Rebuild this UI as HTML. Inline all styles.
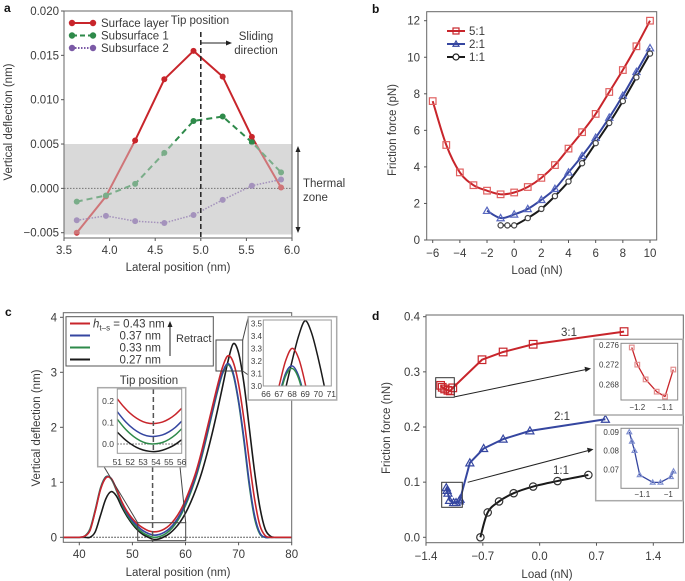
<!DOCTYPE html>
<html><head><meta charset="utf-8"><style>
html,body{margin:0;padding:0;background:#fff;}
svg{display:block;font-family:"Liberation Sans",sans-serif;}
</style></head><body>
<svg id="fig" width="685" height="581" viewBox="0 0 685 581"></svg>
<script>
// ---------- panel a data ----------
const aX = [3.64, 3.96, 4.28, 4.60, 4.92, 5.24, 5.56, 5.88];
const aSurface = [-0.0050, -0.0009, 0.0054, 0.0123, 0.0155, 0.0126, 0.0058, 0.0001];
const aSub1 = [-0.0015, -0.0008, 0.0005, 0.0040, 0.0076, 0.0081, 0.0052, 0.0018];
const aSub2 = [-0.0036, -0.0031, -0.0037, -0.0039, -0.0030, -0.0013, 0.0003, 0.0010];
const aXTicks = [3.5, 4.0, 4.5, 5.0, 5.5, 6.0];
const aXLabels = ["3.5", "4.0", "4.5", "5.0", "5.5", "6.0"];
const aYTicks = [0.020, 0.015, 0.010, 0.005, 0.000, -0.005];
const aYLabels = ["0.020", "0.015", "0.010", "0.005", "0.000", "\u22120.005"];
// ---------- panel b data ----------
const b51X = [-6,-5,-4,-3,-2,-1,0,1,2,3,4,5,6,7,8,9,10];
const b51Y = [7.6,5.2,3.7,3.0,2.7,2.5,2.6,2.9,3.4,4.1,5.0,5.9,6.9,8.1,9.3,10.6,12.0];
const b21X = [-2,-1,0,1,2,3,4,5,6,7,8,9,10];
const b21Y = [1.6,1.2,1.4,1.7,2.2,2.8,3.7,4.6,5.6,6.7,7.9,9.2,10.5];
const b11X = [-1,-0.5,0,1,2,3,4,5,6,7,8,9,10];
const b11Y = [0.8,0.8,0.8,1.2,1.7,2.4,3.2,4.2,5.3,6.4,7.6,8.9,10.2];
const bXTicks = [-6,-4,-2,0,2,4,6,8,10];
const bXLabels = ["\u22126","\u22124","\u22122","0","2","4","6","8","10"];
const bYTicks = [0,2,4,6,8,10,12];
const bYLabels = ["0","2","4","6","8","10","12"];
// ---------- panel c data ----------
const cX =     [37,40,41,42,43,44,45,46,47,48,49,50,51,52,53,54,55,56,57,58,59,60,61,62,63,64,65,66,67,68,69,70,71,72,73,74,75,76,77,78,80];
const cRed =   [0,0,0.02,0.12,0.47,0.87,1.08,1.07,0.88,0.65,0.47,0.34,0.24,0.17,0.12,0.10,0.11,0.15,0.22,0.33,0.48,0.68,0.92,1.20,1.55,1.95,2.35,2.75,3.10,3.30,3.18,2.78,2.15,1.40,0.70,0.22,0.03,0,0,0,0];
const cBlue =  [0,0,0.02,0.13,0.48,0.88,1.09,1.07,0.87,0.63,0.44,0.30,0.20,0.12,0.07,0.04,0.05,0.09,0.16,0.27,0.42,0.62,0.86,1.14,1.48,1.87,2.27,2.67,3.00,3.16,2.98,2.48,1.80,1.00,0.40,0.08,0,0,0,0,0];
const cGreen = [0,0,0.02,0.15,0.50,0.90,1.10,1.06,0.85,0.60,0.41,0.27,0.16,0.08,0.03,0.00,0.01,0.05,0.12,0.23,0.38,0.58,0.82,1.10,1.44,1.83,2.24,2.64,2.98,3.14,2.95,2.45,1.75,0.95,0.35,0.06,0,0,0,0,0];
const cBlack = [0,0,0,0,0.10,0.40,0.70,0.83,0.75,0.55,0.38,0.24,0.13,0.05,0.00,-0.04,-0.03,0.01,0.07,0.16,0.28,0.44,0.64,0.88,1.16,1.50,1.88,2.30,2.75,3.20,3.52,3.35,2.80,2.00,1.20,0.55,0.15,0.02,0,0,0];
const cXTicks = [40,50,60,70,80];
const cYTicks = [0,1,2,3,4];
// inset 1 (minimum)
const ciX =     [51,51.5,52,52.5,53,53.5,54,54.5,55,55.5,56];
const ciRed =   [0.210,0.173,0.143,0.120,0.104,0.096,0.096,0.102,0.116,0.137,0.166];
const ciBlue =  [0.150,0.113,0.083,0.060,0.044,0.036,0.036,0.042,0.056,0.077,0.106];
const ciGreen = [0.115,0.078,0.048,0.025,0.009,0.001,0.001,0.007,0.021,0.042,0.071];
const ciBlack = [0.055,0.026,0.002,-0.016,-0.028,-0.034,-0.035,-0.029,-0.018,-0.002,0.020];
const ciXTicks = [51,52,53,54,55,56];
const ciYTicks = [0.0,0.1,0.2];
const ciYLabels = ["0.0","0.1","0.2"];
// inset 2 (peak)
const cpX =     [66.6,67.0,67.5,68.0,68.5,69.0,69.5,70.0,70.5,71.0];
const cpRed =   [2.85,3.00,3.20,3.30,3.22,3.02,2.75,2.45,2.1,1.7];
const cpBlue =  [2.75,2.92,3.10,3.16,3.08,2.88,2.6,2.3,2.0,1.7];
const cpGreen = [2.73,2.90,3.08,3.14,3.06,2.86,2.6,2.3,2.0,1.7];
const cpBlack = [2.55,2.75,2.98,3.20,3.40,3.52,3.42,3.22,2.98,2.7];
const cpXTicks = [66,67,68,69,70,71];
const cpYTicks = [3.0,3.1,3.2,3.3,3.4,3.5];
// ---------- panel d data ----------
const d31X = [-1.22,-1.20,-1.17,-1.13,-1.10,-1.07,-0.71,-0.45,-0.08,1.04];
const d31Y = [0.2755,0.272,0.269,0.2665,0.2655,0.271,0.322,0.336,0.350,0.373];
const d21X = [-1.15,-1.14,-1.13,-1.11,-1.06,-1.03,-0.99,-0.98,-0.86,-0.69,-0.45,-0.12,0.81];
const d21Y = [0.090,0.085,0.080,0.067,0.063,0.063,0.066,0.069,0.135,0.161,0.178,0.193,0.214];
const d11X = [-0.73,-0.64,-0.50,-0.32,-0.08,0.22,0.60];
const d11Y = [0.0,0.045,0.065,0.080,0.092,0.102,0.113];
const dXTicks = [-1.4,-0.7,0.0,0.7,1.4];
const dXLabels = ["\u22121.4","\u22120.7","0.0","0.7","1.4"];
const dYTicks = [0.0,0.1,0.2,0.3,0.4];
const dYLabels = ["0.0","0.1","0.2","0.3","0.4"];
const drYTicks = [0.268,0.272,0.276];
const drXTicks = [-1.2,-1.1];
const dbYTicks = [0.07,0.08,0.09];
const dbXTicks = [-1.1,-1.0];

const NS = "http://www.w3.org/2000/svg";
const svg = document.getElementById("fig");
function mk(tag, attrs, name, parent) {
  const el = document.createElementNS(NS, tag);
  for (const k in attrs) el.setAttribute(k, attrs[k]);
  
  
  (parent || svg).appendChild(el);
  return el;
}
function txt(x, y, s, name, o) {
  o = o || {};
  const el = mk("text", {x: x, y: y, "font-size": o.size || 11.5, fill: o.fill || "#3a3a3a",
    "text-anchor": o.anchor || "start", "font-weight": o.bold ? "bold" : "normal"}, name, o.parent);
  if (o.rot) el.setAttribute("transform", "rotate(-90 " + x + " " + y + ")");
  el.textContent = s;
  return el;
}
function lin(d0, d1, r0, r1) { return v => r0 + (v - d0) / (d1 - d0) * (r1 - r0); }
function line(x1, y1, x2, y2, name, o) {
  o = o || {};
  return mk("line", {x1: x1, y1: y1, x2: x2, y2: y2, stroke: o.stroke || "#555", "stroke-width": o.w || 1,
    "stroke-dasharray": o.dash || "none"}, name, o.parent);
}
function smoothPath(pts) {
  let d = "M" + pts[0][0] + "," + pts[0][1];
  for (let i = 0; i < pts.length - 1; i++) {
    const p0 = pts[Math.max(0, i - 1)], p1 = pts[i], p2 = pts[i + 1], p3 = pts[Math.min(pts.length - 1, i + 2)];
    const c1x = p1[0] + (p2[0] - p0[0]) / 6, c1y = p1[1] + (p2[1] - p0[1]) / 6;
    const c2x = p2[0] - (p3[0] - p1[0]) / 6, c2y = p2[1] - (p3[1] - p1[1]) / 6;
    d += " C" + c1x + "," + c1y + " " + c2x + "," + c2y + " " + p2[0] + "," + p2[1];
  }
  return d;
}
function series(xs, ys, sx, sy, name, o) {
  const pts = xs.map((v, i) => [sx(v), sy(ys[i])]);
  const d = o.smooth ? smoothPath(pts) : "M" + pts.map(p => p[0] + "," + p[1]).join(" L");
  const p = mk("path", {d: d, fill: "none", stroke: o.color, "stroke-width": o.w || 2,
    "stroke-dasharray": o.dash || "none", "stroke-linejoin": "round"}, name, o.parent);
  if (o.clip) p.setAttribute("clip-path", "url(#" + o.clip + ")");
  return pts;
}
function markers(pts, kind, color, name, size, parent, fillc) {
  const g = mk("g", {}, name + "-markers", parent);
  pts.forEach(p => {
    const s = size;
    if (kind === "dot") mk("circle", {cx: p[0], cy: p[1], r: s, fill: color}, name + "-point", g);
    if (kind === "circle") mk("circle", {cx: p[0], cy: p[1], r: s, fill: fillc || "none", stroke: color, "stroke-width": 1.2}, name + "-point", g);
    if (kind === "square") mk("rect", {x: p[0] - s, y: p[1] - s, width: 2 * s, height: 2 * s, fill: "none", stroke: color, "stroke-width": 1.2}, name + "-point", g);
    if (kind === "tri") mk("polygon", {points: (p[0]) + "," + (p[1] - s) + " " + (p[0] - s) + "," + (p[1] + s * 0.75) + " " + (p[0] + s) + "," + (p[1] + s * 0.75), fill: "none", stroke: color, "stroke-width": 1.2}, name + "-point", g);
  });
}
function clip(id, x, y, w, h) {
  const c = mk("clipPath", {id: id}, id, svg);
  mk("rect", {x: x, y: y, width: w, height: h}, id + "-rect", c);
}
const RED = "#c8252b", GREEN = "#2e8a4a", PURPLE = "#7b5aa6", BLUE = "#3546a0", BLACK = "#1a1a1a";

// ================= PANEL A =================
(function () {
  const sx = lin(3.5, 6.0, 64, 292), sy = lin(-0.005, 0.020, 232.7, 11);
  const g = mk("g", {}, "panel-a");
  txt(4, 12, "a", "panel-a-label", {bold: true, size: 12, fill: "#111", parent: g});
  mk("rect", {x: 64, y: sy(0.005), width: 228, height: sy(-0.0052) - sy(0.005), fill: "#dadada"}, "thermal-zone-band", g);
  line(64, sy(0), 292, sy(0), "zero-line", {stroke: "#222", dash: "1.5,1.5", parent: g});
  const p1 = series(aX, aSurface, sx, sy, "surface-layer-line", {color: RED, w: 2, parent: g});
  const p2 = series(aX, aSub1, sx, sy, "subsurface-1-line", {color: GREEN, w: 2, dash: "6,4", parent: g});
  const p3 = series(aX, aSub2, sx, sy, "subsurface-2-line", {color: PURPLE, w: 1.5, dash: "1.5,1.5", parent: g});
  markers(p1, "dot", RED, "surface-layer", 3, g);
  markers(p2, "dot", GREEN, "subsurface-1", 3, g);
  markers(p3, "dot", PURPLE, "subsurface-2", 3, g);
  mk("rect", {x: 64, y: sy(0.005), width: 228, height: sy(-0.0052) - sy(0.005), fill: "#d6d6d6", opacity: 0.45}, "thermal-zone-overlay", g);
  line(sx(5.0), 32, sx(5.0), 238, "tip-position-line", {stroke: "#222", w: 1.5, dash: "5,3", parent: g});
  line(sx(5.0), 43, 228, 43, "sliding-arrow", {stroke: "#222", parent: g});
  mk("polygon", {points: "232,43 226,40.5 226,45.5", fill: "#222"}, "sliding-arrowhead", g);
  txt(200, 24, "Tip position", "tip-position-label", {anchor: "middle", parent: g});
  txt(256, 40, "Sliding", "sliding-label", {anchor: "middle", parent: g});
  txt(256, 54, "direction", "direction-label", {anchor: "middle", parent: g});
  line(298, 150, 298, 229, "thermal-zone-arrow", {stroke: "#222", parent: g});
  mk("polygon", {points: "298,146 295.5,152 300.5,152", fill: "#222"}, "thermal-arrow-top", g);
  mk("polygon", {points: "298,233 295.5,227 300.5,227", fill: "#222"}, "thermal-arrow-bottom", g);
  txt(303, 187, "Thermal", "thermal-label", {parent: g});
  txt(303, 201, "zone", "zone-label", {parent: g});
  mk("rect", {x: 64, y: 11, width: 228, height: 227, fill: "none", stroke: "#666", "stroke-width": 1}, "panel-a-frame", g);
  aXTicks.forEach((v, i) => { line(sx(v), 238, sx(v), 241, "x-tick", {parent: g}); txt(sx(v), 254, aXLabels[i], "x-tick-label", {anchor: "middle", parent: g}); });
  aYTicks.forEach((v, i) => { line(61, sy(v), 64, sy(v), "y-tick", {parent: g}); txt(59, sy(v) + 4, aYLabels[i], "y-tick-label", {anchor: "end", parent: g}); });
  txt(178, 271, "Lateral position (nm)", "x-axis-title", {anchor: "middle", parent: g});
  txt(12, 122, "Vertical deflection (nm)", "y-axis-title", {anchor: "middle", rot: true, parent: g});
  const leg = [["Surface layer", RED, "none", "legend-surface"], ["Subsurface 1", GREEN, "5,3", "legend-subsurface-1"], ["Subsurface 2", PURPLE, "1.5,1.5", "legend-subsurface-2"]];
  leg.forEach((e, i) => {
    const y = 23 + i * 12.5;
    line(72, y, 93, y, e[3] + "-line", {stroke: e[1], w: 2, dash: e[2], parent: g});
    mk("circle", {cx: 72, cy: y, r: 3.2, fill: e[1]}, e[3] + "-dot", g);
    mk("circle", {cx: 93, cy: y, r: 3.2, fill: e[1]}, e[3] + "-dot", g);
    txt(101, y + 4, e[0], e[3] + "-text", {parent: g});
  });
})();

// ================= PANEL B =================
(function () {
  const sx = lin(-6, 10, 432.7, 650), sy = lin(0, 12, 240, 20.7);
  const g = mk("g", {}, "panel-b");
  txt(372, 13, "b", "panel-b-label", {bold: true, size: 12, fill: "#111", parent: g});
  mk("rect", {x: 426.7, y: 11.7, width: 230, height: 228.3, fill: "none", stroke: "#666"}, "panel-b-frame", g);
  const p1 = series(b51X, b51Y, sx, sy, "ratio-5-1-line", {color: RED, w: 2, smooth: true, parent: g});
  const p2 = series(b21X, b21Y, sx, sy, "ratio-2-1-line", {color: BLUE, w: 2, smooth: true, parent: g});
  const p3 = series(b11X, b11Y, sx, sy, "ratio-1-1-line", {color: BLACK, w: 2, smooth: true, parent: g});
  markers(p1, "square", "#e06060", "ratio-5-1", 3.3, g);
  markers(p2, "tri", "#5868c0", "ratio-2-1", 3.6, g);
  markers(p3, "circle", "#444", "ratio-1-1", 2.6, g, "#fff");
  bXTicks.forEach((v, i) => { line(sx(v), 240, sx(v), 243, "x-tick", {parent: g}); txt(sx(v), 257, bXLabels[i], "x-tick-label", {anchor: "middle", parent: g}); });
  bYTicks.forEach((v, i) => { line(424, sy(v), 426.7, sy(v), "y-tick", {parent: g}); txt(420, sy(v) + 4, bYLabels[i], "y-tick-label", {anchor: "end", parent: g}); });
  txt(537, 274, "Load (nN)", "x-axis-title", {anchor: "middle", parent: g});
  txt(396, 130, "Friction force (pN)", "y-axis-title", {anchor: "middle", rot: true, parent: g});
  const leg = [["5:1", RED, "square", "legend-5-1"], ["2:1", BLUE, "tri", "legend-2-1"], ["1:1", BLACK, "circle", "legend-1-1"]];
  leg.forEach((e, i) => {
    const y = 31 + i * 13;
    line(447, y, 465, y, e[3] + "-line", {stroke: e[1], w: 2, parent: g});
    markers([[456, y]], e[2], e[1], e[3], 3, g, "#fff");
    txt(469, y + 4, e[0], e[3] + "-text", {parent: g});
  });
})();

// ================= PANEL C =================
(function () {
  const sx = lin(40, 80, 79.3, 291.7), sy = lin(0, 4, 537.3, 317.3);
  const g = mk("g", {}, "panel-c");
  txt(5, 316, "c", "panel-c-label", {bold: true, size: 12, fill: "#111", parent: g});
  clip("clipC", 63.3, 312.7, 228.4, 229.6);
  line(63.3, sy(0), 291.7, sy(0), "zero-line", {stroke: "#333", dash: "1.5,1.5", parent: g});
  series(cX, cBlack, sx, sy, "h-0.27-curve", {color: BLACK, w: 1.6, smooth: true, clip: "clipC", parent: g});
  series(cX, cGreen, sx, sy, "h-0.33-curve", {color: GREEN, w: 1.6, smooth: true, clip: "clipC", parent: g});
  series(cX, cBlue, sx, sy, "h-0.37-curve", {color: BLUE, w: 1.6, smooth: true, clip: "clipC", parent: g});
  series(cX, cRed, sx, sy, "h-0.43-curve", {color: RED, w: 1.6, smooth: true, clip: "clipC", parent: g});
  line(sx(53.8), 387, sx(53.8), 542, "tip-position-line", {stroke: "#555", w: 1.5, dash: "5,3", parent: g});
  txt(149, 384, "Tip position", "tip-position-label", {anchor: "middle", parent: g});
  mk("rect", {x: 137.7, y: 522.7, width: 48, height: 18, fill: "none", stroke: "#444"}, "zoom-box-minimum", g);
  line(137.7, 522.7, 104, 466.7, "zoom-connector", {stroke: "#444", parent: g});
  line(185.7, 522.7, 180, 466.7, "zoom-connector", {stroke: "#444", parent: g});
  mk("rect", {x: 216, y: 340, width: 26.7, height: 31, fill: "none", stroke: "#444"}, "zoom-box-peak", g);
  line(242.7, 340, 248.3, 317, "zoom-connector", {stroke: "#444", parent: g});
  line(242.7, 371, 248.3, 375, "zoom-connector", {stroke: "#444", parent: g});
  mk("rect", {x: 63.3, y: 312.7, width: 228.4, height: 229.6, fill: "none", stroke: "#666"}, "panel-c-frame", g);
  cXTicks.forEach(v => { line(sx(v), 542.3, sx(v), 545.3, "x-tick", {parent: g}); txt(sx(v), 558, String(v), "x-tick-label", {anchor: "middle", parent: g}); });
  cYTicks.forEach(v => { line(60, sy(v), 63.3, sy(v), "y-tick", {parent: g}); txt(57, sy(v) + 4, String(v), "y-tick-label", {anchor: "end", parent: g}); });
  txt(178, 576, "Lateral position (nm)", "x-axis-title", {anchor: "middle", parent: g});
  txt(40, 428, "Vertical deflection (nm)", "y-axis-title", {anchor: "middle", rot: true, parent: g});
  // legend
  mk("rect", {x: 66, y: 316.7, width: 147.3, height: 49.3, fill: "#fff", stroke: "#555"}, "legend-box", g);
  const leg = [["= 0.43 nm", RED], ["0.37 nm", BLUE], ["0.33 nm", GREEN], ["0.27 nm", BLACK]];
  leg.forEach((e, i) => {
    const y = 323.5 + i * 12;
    line(70, y, 90, y, "legend-line", {stroke: e[1], w: 2, parent: g});
    if (i === 0) {
      const t = txt(93, y + 4, "", "legend-h-label", {parent: g});
      t.innerHTML = '<tspan font-style="italic">h</tspan><tspan font-size="8" dy="3">t\u2013s</tspan><tspan dy="-3"> = 0.43 nm</tspan>';
    } else txt(161, y + 4, e[0], "legend-text", {anchor: "end", parent: g});
  });
  line(170, 356, 170, 326, "retract-arrow", {stroke: "#222", parent: g});
  mk("polygon", {points: "170,321 167.5,327 172.5,327", fill: "#222"}, "retract-arrowhead", g);
  txt(176, 342, "Retract", "retract-label", {size: 11, parent: g});
  // inset 1
  const ix = lin(51, 56, 117.3, 181.7), iy = lin(0, 0.2, 444, 401);
  mk("rect", {x: 97.7, y: 387.7, width: 88, height: 79, fill: "#fff", stroke: "#aaa", "stroke-width": 1.5}, "inset-minimum-frame", g);
  clip("clipI1", 117.3, 389, 64.4, 64.3);
  line(117.3, iy(0), 181.7, iy(0), "inset-zero-line", {stroke: "#555", dash: "1.5,1.5", parent: g});
  series(ciX, ciRed, ix, iy, "inset-h-0.43", {color: RED, w: 1.5, smooth: true, clip: "clipI1", parent: g});
  series(ciX, ciBlue, ix, iy, "inset-h-0.37", {color: BLUE, w: 1.5, smooth: true, clip: "clipI1", parent: g});
  series(ciX, ciGreen, ix, iy, "inset-h-0.33", {color: GREEN, w: 1.5, smooth: true, clip: "clipI1", parent: g});
  series(ciX, ciBlack, ix, iy, "inset-h-0.27", {color: BLACK, w: 1.5, smooth: true, clip: "clipI1", parent: g});
  line(ix(53.8), 389, ix(53.8), 453.3, "inset-tip-line", {stroke: "#555", w: 1.5, dash: "5,3", parent: g});
  mk("rect", {x: 117.3, y: 389, width: 64.4, height: 64.3, fill: "none", stroke: "#999"}, "inset-minimum-axes", g);
  ciXTicks.forEach(v => txt(ix(v), 465, String(v), "inset-x-label", {anchor: "middle", size: 8.5, parent: g}));
  ciYTicks.forEach((v, i) => txt(114, iy(v) + 3, ciYLabels[i], "inset-y-label", {anchor: "end", size: 8.5, parent: g}));
  // inset 2
  const px = lin(66, 71, 266, 331.3), py = lin(3.0, 3.5, 386, 323.3);
  mk("rect", {x: 248.3, y: 316.7, width: 88.4, height: 83.3, fill: "#fff", stroke: "#aaa", "stroke-width": 1.5}, "inset-peak-frame", g);
  clip("clipI2", 263.3, 320, 68, 66);
  series(cpX, cpBlack, px, py, "inset-peak-h-0.27", {color: BLACK, w: 1.5, smooth: true, clip: "clipI2", parent: g});
  series(cpX, cpRed, px, py, "inset-peak-h-0.43", {color: RED, w: 1.5, smooth: true, clip: "clipI2", parent: g});
  series(cpX, cpBlue, px, py, "inset-peak-h-0.37", {color: BLUE, w: 1.5, smooth: true, clip: "clipI2", parent: g});
  series(cpX, cpGreen, px, py, "inset-peak-h-0.33", {color: GREEN, w: 1.5, smooth: true, clip: "clipI2", parent: g});
  mk("rect", {x: 263.3, y: 320, width: 68, height: 66, fill: "none", stroke: "#999"}, "inset-peak-axes", g);
  cpXTicks.forEach(v => txt(px(v), 397, String(v), "inset-x-label", {anchor: "middle", size: 8.5, parent: g}));
  cpYTicks.forEach(v => txt(262, py(v) + 3, v.toFixed(1), "inset-y-label", {anchor: "end", size: 8, parent: g}));
})();

// ================= PANEL D =================
(function () {
  const sx = lin(-1.4, 1.4, 426, 653.3), sy = lin(0, 0.4, 537.3, 316.7);
  const g = mk("g", {}, "panel-d");
  txt(372, 320, "d", "panel-d-label", {bold: true, size: 12, fill: "#111", parent: g});
  mk("rect", {x: 426, y: 315, width: 257.3, height: 227.7, fill: "none", stroke: "#666"}, "panel-d-frame", g);
  const p1 = series(d31X, d31Y, sx, sy, "ratio-3-1-line", {color: RED, w: 2, parent: g});
  const p2 = series(d21X, d21Y, sx, sy, "ratio-2-1-line", {color: BLUE, w: 2, parent: g});
  const p3 = series(d11X, d11Y, sx, sy, "ratio-1-1-line", {color: BLACK, w: 2, smooth: true, parent: g});
  markers(p1, "square", RED, "ratio-3-1", 3.8, g);
  markers(p2, "tri", BLUE, "ratio-2-1", 4, g);
  markers(p3, "circle", "#333", "ratio-1-1", 3.7, g);
  txt(569, 336, "3:1", "label-3-1", {anchor: "middle", parent: g});
  txt(562, 420, "2:1", "label-2-1", {anchor: "middle", parent: g});
  txt(561, 474, "1:1", "label-1-1", {anchor: "middle", parent: g});
  mk("rect", {x: 435.7, y: 377.7, width: 18.6, height: 19.6, fill: "none", stroke: "#333"}, "zoom-box-3-1", g);
  mk("rect", {x: 441.7, y: 482.3, width: 20.6, height: 25, fill: "none", stroke: "#333"}, "zoom-box-2-1", g);
  line(455, 396.7, 586, 369.5, "zoom-arrow-3-1", {stroke: "#222", parent: g});
  mk("polygon", {points: "591,368.5 584.5,366.8 585.5,372", fill: "#222"}, "zoom-arrowhead", g);
  line(467.7, 482.3, 588.5, 450.5, "zoom-arrow-2-1", {stroke: "#222", parent: g});
  mk("polygon", {points: "593.5,449.3 587,447.7 588.3,452.9", fill: "#222"}, "zoom-arrowhead", g);
  dXTicks.forEach((v, i) => { line(sx(v), 542.7, sx(v), 545.7, "x-tick", {parent: g}); txt(sx(v), 560, dXLabels[i], "x-tick-label", {anchor: "middle", parent: g}); });
  dYTicks.forEach((v, i) => { line(423, sy(v), 426, sy(v), "y-tick", {parent: g}); txt(420, sy(v) + 4, dYLabels[i], "y-tick-label", {anchor: "end", parent: g}); });
  txt(547, 578, "Load (nN)", "x-axis-title", {anchor: "middle", parent: g});
  txt(390, 428, "Friction force (nN)", "y-axis-title", {anchor: "middle", rot: true, parent: g});
  // inset red
  const rx = lin(-1.2, -1.1, 637.3, 665), ry = lin(0.268, 0.276, 384.3, 345);
  mk("rect", {x: 594, y: 339.3, width: 88.7, height: 75.7, fill: "#fff", stroke: "#aaa", "stroke-width": 1.5}, "inset-3-1-frame", g);
  clip("clipDR", 621, 343.3, 56.7, 56.7);
  const r1 = series(d31X.slice(0, 6), d31Y.slice(0, 6), rx, ry, "inset-3-1-line", {color: RED, w: 1.3, clip: "clipDR", parent: g});
  markers(r1, "square", "#e39090", "inset-3-1", 2.3, g);
  mk("rect", {x: 621, y: 343.3, width: 56.7, height: 56.7, fill: "none", stroke: "#888"}, "inset-3-1-axes", g);
  drXTicks.forEach(v => txt(rx(v), 410, "\u2212" + Math.abs(v).toFixed(1), "inset-x-label", {anchor: "middle", size: 8, parent: g}));
  drYTicks.forEach(v => txt(619, ry(v) + 3, v.toFixed(3), "inset-y-label", {anchor: "end", size: 8, parent: g}));
  // inset blue
  const bx = lin(-1.1, -1.0, 642.3, 668.3), by = lin(0.07, 0.09, 469.3, 432);
  mk("rect", {x: 595.7, y: 425, width: 87, height: 75.7, fill: "#fff", stroke: "#aaa", "stroke-width": 1.5}, "inset-2-1-frame", g);
  clip("clipDB", 621, 428.3, 57.3, 60);
  const b1 = series(d21X.slice(0, 8), d21Y.slice(0, 8), bx, by, "inset-2-1-line", {color: BLUE, w: 1.3, clip: "clipDB", parent: g});
  markers(b1, "tri", "#8090d0", "inset-2-1", 2.4, g);
  mk("rect", {x: 621, y: 428.3, width: 57.3, height: 60, fill: "none", stroke: "#888"}, "inset-2-1-axes", g);
  dbXTicks.forEach(v => txt(bx(v), 497, v === -1.0 ? "\u22121" : "\u22121.1", "inset-x-label", {anchor: "middle", size: 8, parent: g}));
  dbYTicks.forEach(v => txt(619, by(v) + 3, v.toFixed(2), "inset-y-label", {anchor: "end", size: 8, parent: g}));
})();
</script>
</body></html>
